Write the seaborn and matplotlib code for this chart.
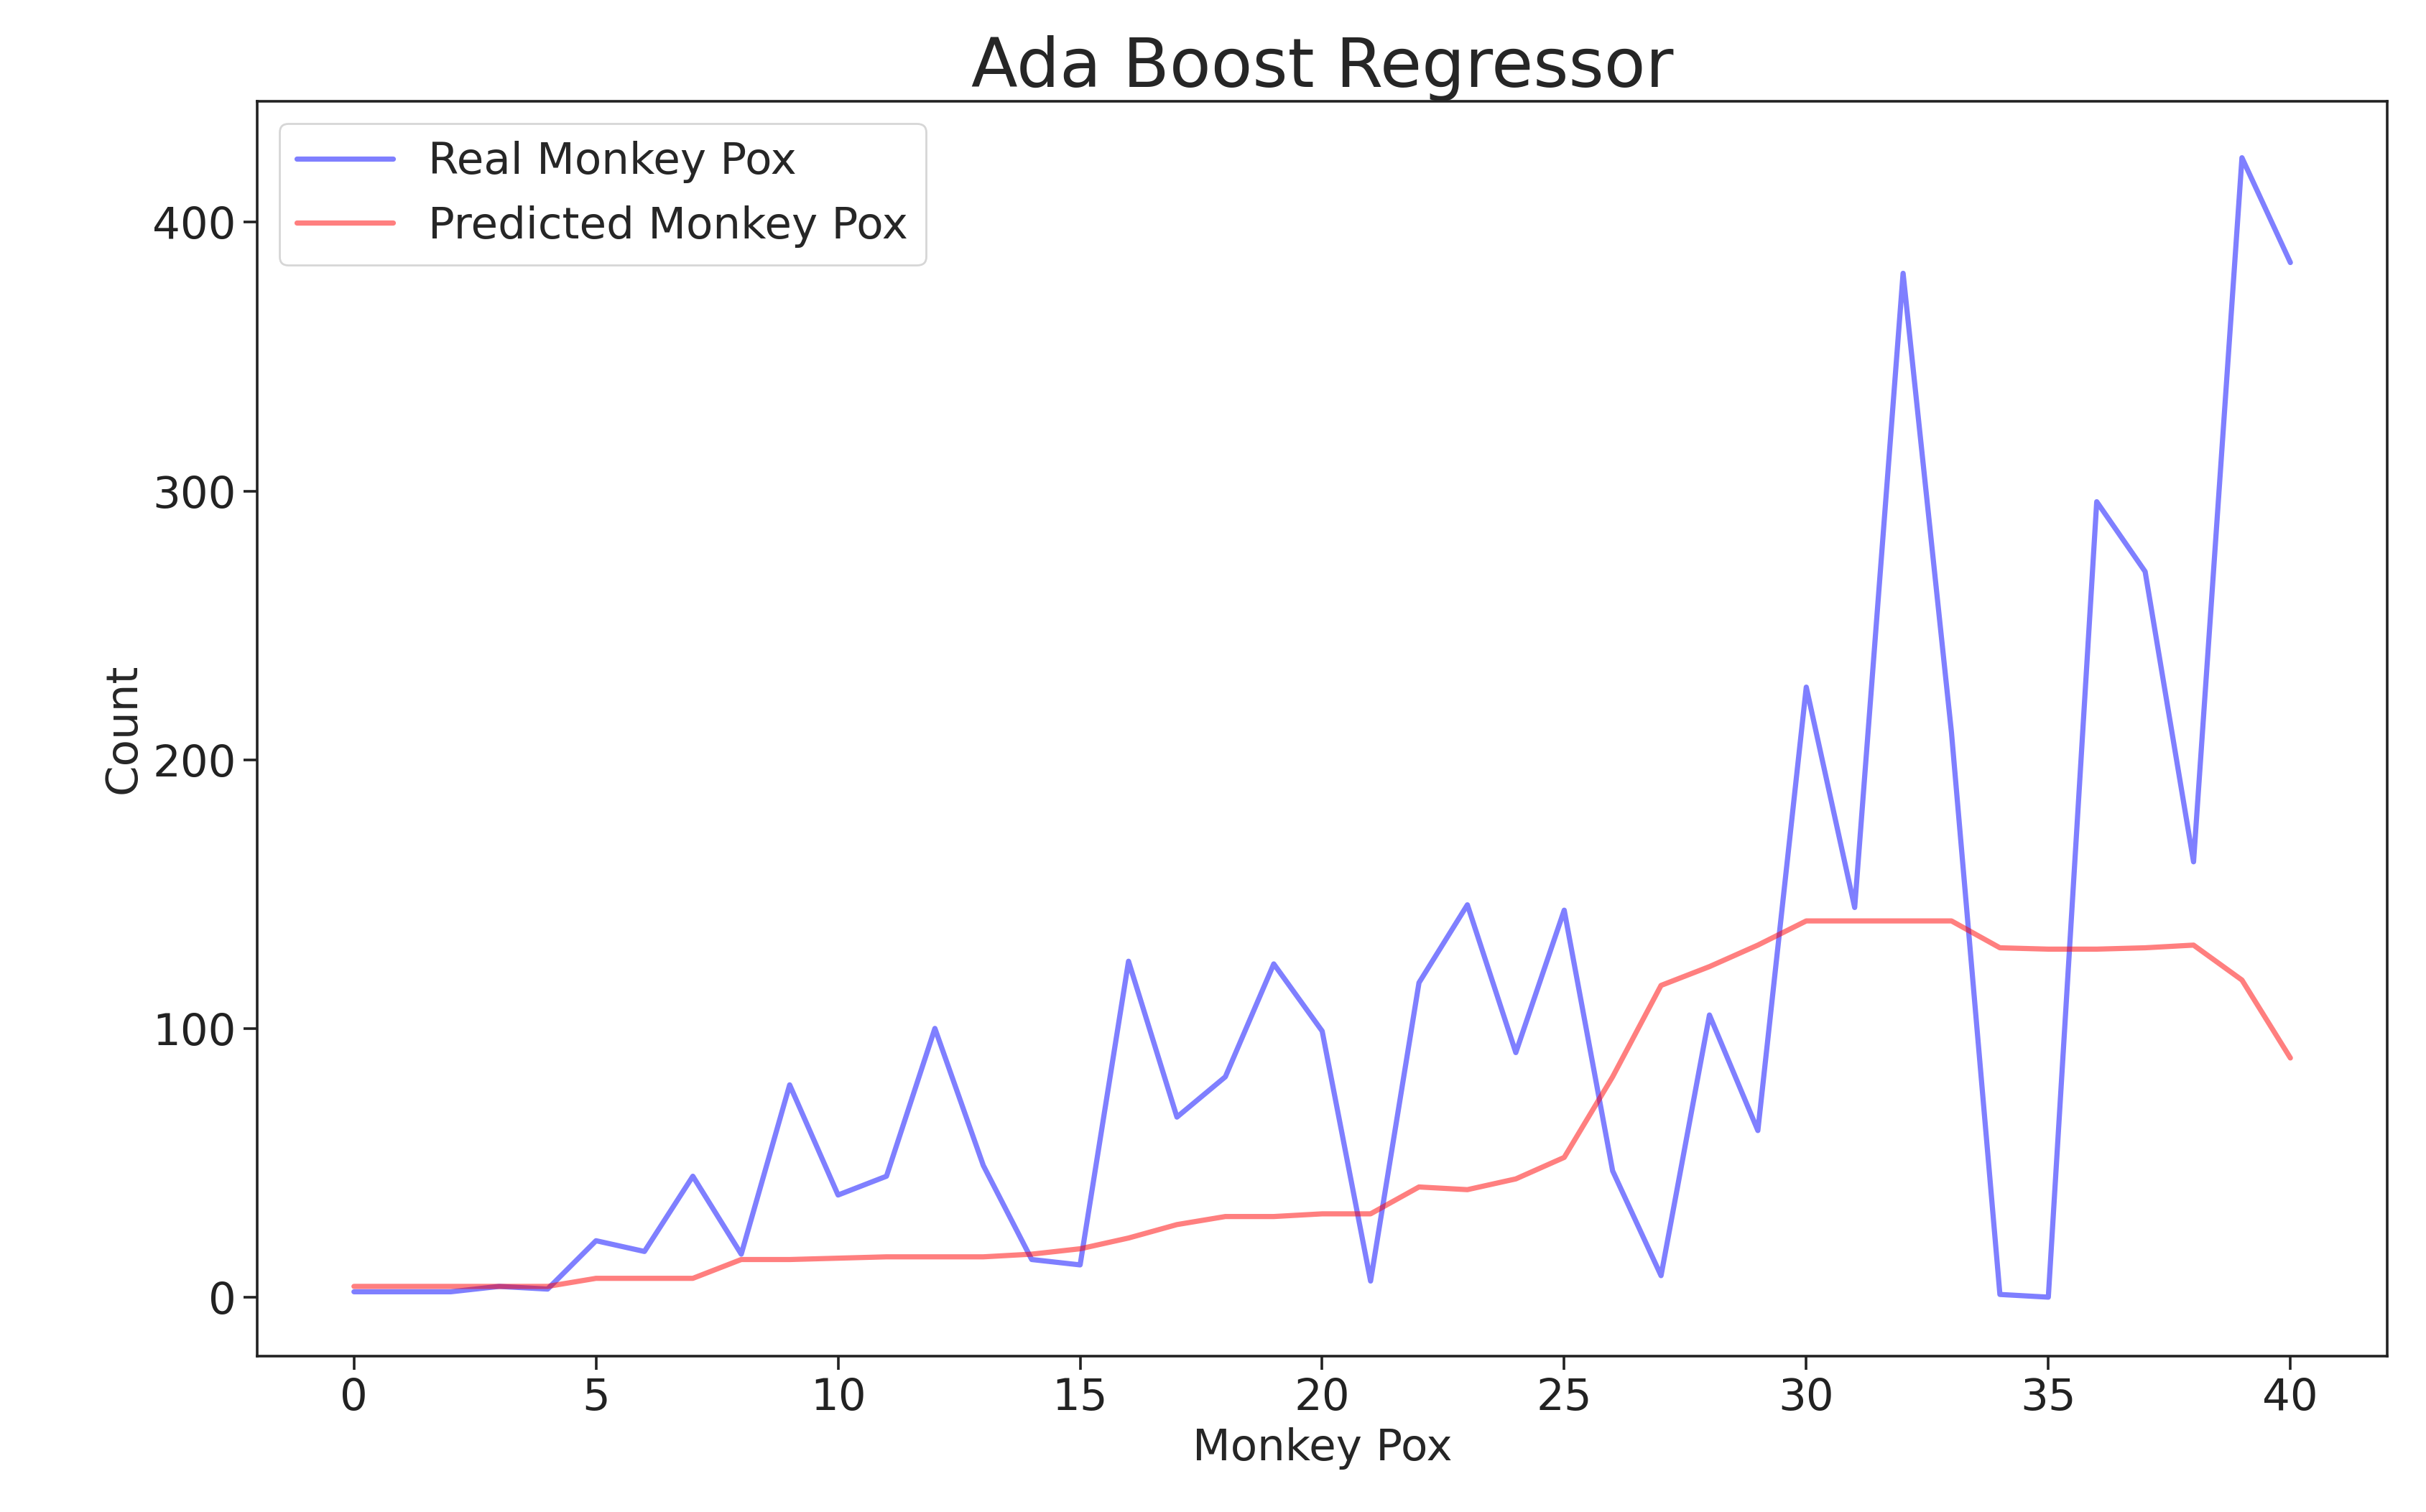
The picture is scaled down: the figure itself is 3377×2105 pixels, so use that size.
import matplotlib
matplotlib.use("Agg")
import matplotlib.pyplot as plt
import seaborn as sns
import pandas as pd
import numpy as np

x = list(range(41))
real = [2, 2, 2, 4, 3, 21, 17, 45, 16, 79, 38, 45, 100, 49, 14, 12, 125, 67, 82, 124,
        99, 6, 117, 146, 91, 144, 47, 8, 105, 62, 227, 145, 381, 210, 1, 0, 296, 270, 162, 424, 385]
pred = [4, 4, 4, 4, 4, 7, 7, 7, 14, 14, 14.5, 15, 15, 15, 16, 18, 22, 27, 30, 30,
        31, 31, 41, 40, 44, 52, 82, 116, 123, 131, 140, 140, 140, 140, 130, 129.5, 129.5, 130, 131, 118, 89]

sns.set_style("ticks")
plt.rcParams['font.family'] = ['DejaVu Sans']
fig = plt.figure(figsize=(16.885, 10.525), dpi=200)
ax = fig.add_axes([0.106, 0.103, 0.878, 0.83])
df = pd.DataFrame({"x": x, "real": real, "pred": pred})
sns.lineplot(data=df, x="x", y="real", color="blue", alpha=0.5, lw=2.6, ax=ax, label="Real Monkey Pox")
sns.lineplot(data=df, x="x", y="pred", color="red", alpha=0.5, lw=2.6, ax=ax, label="Predicted Monkey Pox")
ax.set_xticks(range(0, 41, 5))
ax.set_yticks([0, 100, 200, 300, 400])
ax.set_xlim(-2, 42)
ax.set_ylim(-22, 445)
ax.tick_params(labelsize=22, length=7, width=1.3, colors="#222222")
for s in ax.spines.values():
    s.set_linewidth(1.3)
    s.set_color("#222222")
ax.set_xlabel("Monkey Pox", fontsize=22)
ax.set_ylabel("Count", fontsize=22, family=["Liberation Sans Narrow", "DejaVu Sans"])
ax.set_title("Ada Boost Regressor", fontsize=34)
ax.legend(loc="upper left", fontsize=22, handlelength=2.2)
fig.savefig("out.png", dpi=200)
